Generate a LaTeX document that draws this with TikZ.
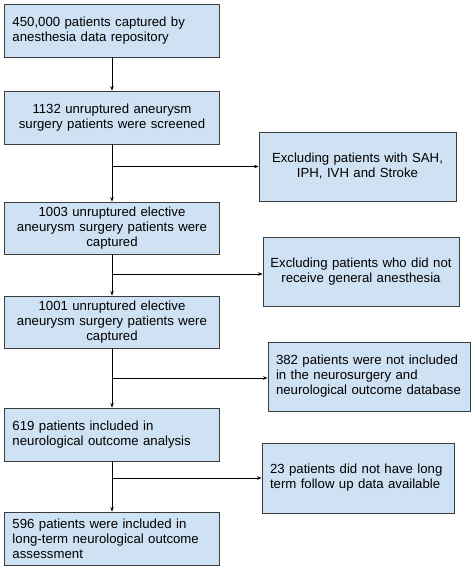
\documentclass[tikz,border=0pt]{standalone}
\usepackage{fontspec}
\setmainfont{Liberation Sans}
\usetikzlibrary{arrows.meta}
\definecolor{boxfill}{RGB}{207,226,243}
\definecolor{boxline}{RGB}{60,60,60}
\tikzset{
  flowbox/.style={draw=boxline, line width=0.9pt, fill=boxfill, inner xsep=8pt, inner ysep=0pt,
    font=\fontsize{13.2}{15}\selectfont, anchor=center},
  leftbox/.style={flowbox, align=left},
  ctrbox/.style={flowbox, align=center},
  conn/.style={line width=0.8pt, black, -{Stealth[length=4.5pt,width=3.5pt]}}
}
\begin{document}
\begin{tikzpicture}[x=1pt,y=-1pt]
\useasboundingbox (0,0) rectangle (474,569);
% left column
\node[leftbox, text width=199pt, minimum height=53pt] (b1) at (112,30.5)
  {450,000 patients captured by\\anesthesia data repository};
\node[ctrbox, text width=199pt, minimum height=53pt] (b2) at (112,117.5)
  {1132 unruptured aneurysm\\surgery patients were screened};
\node[ctrbox, text width=199pt, minimum height=52pt] (b3) at (112,228)
  {1003 unruptured elective\\aneurysm surgery patients were\\captured};
\node[ctrbox, text width=199pt, minimum height=52pt] (b4) at (112,322)
  {1001 unruptured elective\\aneurysm surgery patients were\\captured};
\node[leftbox, text width=199pt, minimum height=53pt] (b5) at (112,434.5)
  {619 patients included in\\neurological outcome analysis};
\node[leftbox, text width=199pt, minimum height=53pt] (b6) at (112,538.5)
  {596 patients were included in\\long-term neurological outcome\\assessment};
% right column
\node[ctrbox, inner xsep=3pt, text width=191pt, minimum height=69pt] (r1) at (357.5,166.5)
  {Excluding patients with SAH,\\IPH, IVH and Stroke};
\node[ctrbox, inner xsep=3pt, text width=190pt, minimum height=69pt] (r2) at (361,271.5)
  {Excluding patients who did not\\receive general anesthesia};
\node[leftbox, text width=186pt, minimum height=69pt] (r3) at (369,376.5)
  {382 patients were not included\\in the neurosurgery and\\neurological outcome database};
\node[leftbox, text width=176pt, minimum height=70pt] (r4) at (358,478)
  {23 patients did not have long\\term follow up data available};
% vertical connectors
\draw[conn] (b1.south) -- (b2.north);
\draw[conn] (b2.south) -- (b3.north);
\draw[conn] (b3.south) -- (b4.north);
\draw[conn] (b4.south) -- (b5.north);
\draw[conn] (b5.south) -- (b6.north);
% branch points
\coordinate (j1) at (112,166.5);
\coordinate (j2) at (112,274);
\coordinate (j3) at (112,378);
\coordinate (j4) at (112,478);
\draw[conn] (j1) -- (j1 -| r1.west);
\draw[conn] (j2) -- (j2 -| r2.west);
\draw[conn] (j3) -- (j3 -| r3.west);
\draw[conn] (j4) -- (j4 -| r4.west);
\end{tikzpicture}
\end{document}
